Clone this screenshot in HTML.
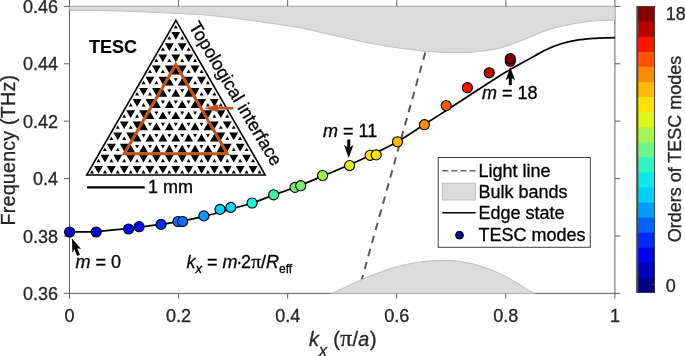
<!DOCTYPE html>
<html><head><meta charset="utf-8"><title>TESC dispersion</title>
<style>html,body{margin:0;padding:0;background:#fff}svg{display:block}text{stroke:#262626;stroke-width:.3px}text[fill="#000"]{stroke:#000}</style></head>
<body>
<svg width="685" height="356" viewBox="0 0 685 356" font-family='"Liberation Sans", Arial, Helvetica, sans-serif' font-size="18" fill="#262626">
<rect width="685" height="356" fill="#fff"/>
<line x1="425.3" y1="52.4" x2="360.6" y2="283.7" stroke="#595959" stroke-width="2" stroke-dasharray="7.6 6"/>
<rect x="69.5" y="6.4" width="545.4" height="287.0" fill="none" stroke="#606060" stroke-width="1"/>
<path d="M69.5,10.2 C75.1,10.3 91.1,10.3 103.0,10.6 C114.9,10.9 128.3,11.3 141.0,11.8 C153.7,12.3 168.3,13.0 178.9,13.5 C189.5,14.0 197.9,14.4 204.6,14.9 C211.3,15.4 214.3,15.9 219.2,16.4 C224.1,16.9 228.9,17.5 233.8,18.1 C238.7,18.7 243.5,19.3 248.4,20.0 C253.3,20.7 257.7,21.4 263.0,22.2 C268.3,23.0 274.2,23.8 280.0,24.6 C285.8,25.5 291.7,26.2 297.5,27.3 C303.3,28.4 309.1,29.7 315.0,31.0 C320.9,32.3 326.8,33.9 332.6,35.2 C338.4,36.5 344.2,37.6 350.0,38.9 C355.8,40.1 361.8,41.5 367.6,42.7 C373.4,43.9 379.6,45.0 385.0,45.9 C390.4,46.8 393.9,47.3 400.0,48.1 C406.1,48.9 414.8,50.2 421.5,50.9 C428.2,51.6 434.6,51.9 440.0,52.2 C445.4,52.5 449.0,52.6 454.0,52.6 C459.0,52.6 464.5,52.6 470.0,52.3 C475.5,51.9 481.6,51.3 487.0,50.5 C492.4,49.7 496.2,49.3 502.5,47.4 C508.8,45.5 517.5,42.2 525.0,39.3 C532.5,36.4 539.9,32.6 547.4,30.1 C554.9,27.6 562.6,26.0 570.0,24.5 C577.4,23.0 584.5,21.8 592.0,21.1 C599.5,20.4 611.1,20.3 614.9,20.1 L614.9,6.4 L69.5,6.4 Z" fill="#dbdbdb"/>
<path d="M69.5,6.4H614.9M614.9,6.4V20.1" fill="none" stroke="#bfbfbf" stroke-width="1" stroke-opacity="0.6"/>
<path d="M69.5,10.2 C75.1,10.3 91.1,10.3 103.0,10.6 C114.9,10.9 128.3,11.3 141.0,11.8 C153.7,12.3 168.3,13.0 178.9,13.5 C189.5,14.0 197.9,14.4 204.6,14.9 C211.3,15.4 214.3,15.9 219.2,16.4 C224.1,16.9 228.9,17.5 233.8,18.1 C238.7,18.7 243.5,19.3 248.4,20.0 C253.3,20.7 257.7,21.4 263.0,22.2 C268.3,23.0 274.2,23.8 280.0,24.6 C285.8,25.5 291.7,26.2 297.5,27.3 C303.3,28.4 309.1,29.7 315.0,31.0 C320.9,32.3 326.8,33.9 332.6,35.2 C338.4,36.5 344.2,37.6 350.0,38.9 C355.8,40.1 361.8,41.5 367.6,42.7 C373.4,43.9 379.6,45.0 385.0,45.9 C390.4,46.8 393.9,47.3 400.0,48.1 C406.1,48.9 414.8,50.2 421.5,50.9 C428.2,51.6 434.6,51.9 440.0,52.2 C445.4,52.5 449.0,52.6 454.0,52.6 C459.0,52.6 464.5,52.6 470.0,52.3 C475.5,51.9 481.6,51.3 487.0,50.5 C492.4,49.7 496.2,49.3 502.5,47.4 C508.8,45.5 517.5,42.2 525.0,39.3 C532.5,36.4 539.9,32.6 547.4,30.1 C554.9,27.6 562.6,26.0 570.0,24.5 C577.4,23.0 584.5,21.8 592.0,21.1 C599.5,20.4 611.1,20.3 614.9,20.1" fill="none" stroke="#bfbfbf" stroke-width="1"/>
<path d="M331.6,293.4 C335.5,291.6 348.2,285.8 355.0,282.7 C361.8,279.6 366.8,277.3 372.6,275.0 C378.4,272.7 384.2,270.5 390.0,268.7 C395.8,266.9 401.8,265.4 407.6,264.2 C413.4,263.0 419.2,262.0 425.0,261.4 C430.8,260.8 436.8,260.3 442.6,260.3 C448.4,260.3 454.1,260.6 460.0,261.4 C465.9,262.2 471.8,263.5 477.7,265.2 C483.6,266.9 489.4,269.0 495.2,271.5 C501.0,274.0 507.5,277.4 512.7,280.3 C518.0,283.2 523.1,286.8 526.7,289.0 C530.3,291.2 533.1,292.7 534.4,293.4 Z" fill="#dbdbdb"/>
<path d="M331.6,293.4H534.4" fill="none" stroke="#bfbfbf" stroke-width="1" stroke-opacity="0.5"/>
<path d="M331.6,293.4 C335.5,291.6 348.2,285.8 355.0,282.7 C361.8,279.6 366.8,277.3 372.6,275.0 C378.4,272.7 384.2,270.5 390.0,268.7 C395.8,266.9 401.8,265.4 407.6,264.2 C413.4,263.0 419.2,262.0 425.0,261.4 C430.8,260.8 436.8,260.3 442.6,260.3 C448.4,260.3 454.1,260.6 460.0,261.4 C465.9,262.2 471.8,263.5 477.7,265.2 C483.6,266.9 489.4,269.0 495.2,271.5 C501.0,274.0 507.5,277.4 512.7,280.3 C518.0,283.2 523.1,286.8 526.7,289.0 C530.3,291.2 533.1,292.7 534.4,293.4" fill="none" stroke="#bfbfbf" stroke-width="1"/>
<path d="M69.50,293.4v5.2M69.50,6.4v-6.4M178.58,293.4v5.2M178.58,6.4v-6.4M287.66,293.4v5.2M287.66,6.4v-6.4M396.74,293.4v5.2M396.74,6.4v-6.4M505.82,293.4v5.2M505.82,6.4v-6.4M614.90,293.4v5.2M614.90,6.4v-6.4M69.5,293.40h-5.5M614.9,293.40h5.5M69.5,236.00h-5.5M614.9,236.00h5.5M69.5,178.60h-5.5M614.9,178.60h5.5M69.5,121.20h-5.5M614.9,121.20h5.5M69.5,63.80h-5.5M614.9,63.80h5.5M69.5,6.40h-5.5M614.9,6.40h5.5" stroke="#606060" stroke-width="1" fill="none"/>
<text x="69.5" y="321.6" text-anchor="middle">0</text>
<text x="178.6" y="321.6" text-anchor="middle">0.2</text>
<text x="287.7" y="321.6" text-anchor="middle">0.4</text>
<text x="396.7" y="321.6" text-anchor="middle">0.6</text>
<text x="505.8" y="321.6" text-anchor="middle">0.8</text>
<text x="614.9" y="321.6" text-anchor="middle">1</text>
<text x="58" y="299.9" text-anchor="end">0.36</text>
<text x="58" y="242.5" text-anchor="end">0.38</text>
<text x="58" y="185.1" text-anchor="end">0.4</text>
<text x="58" y="127.7" text-anchor="end">0.42</text>
<text x="58" y="70.3" text-anchor="end">0.44</text>
<text x="58" y="12.9" text-anchor="end">0.46</text>
<text transform="translate(14.8,150.1) rotate(-90)" text-anchor="middle" font-size="19.8" letter-spacing="0.15">Frequency (THz)</text>
<text x="309" y="345.7" font-size="19.8"><tspan font-style="italic">k</tspan><tspan font-style="italic" font-size="16" dy="9.8">x</tspan><tspan dy="-9.8" dx="0.8"> (</tspan><tspan font-family="Liberation Serif, serif" font-size="23.5" dx="0.4">π</tspan><tspan dx="0.4">/</tspan><tspan font-style="italic" dx="0.3">a</tspan><tspan dx="0.8">)</tspan></text>
<path d="M69.5,232.0 C74.0,231.9 86.4,232.2 96.2,231.6 C106.0,231.0 121.4,229.3 128.6,228.6 C135.8,227.9 133.7,227.9 139.1,227.2 C144.5,226.5 154.2,225.4 161.0,224.4 C167.8,223.4 172.8,222.7 180.0,221.3 C187.2,220.0 196.4,218.1 203.9,216.3 C211.4,214.5 217.0,212.9 225.0,210.7 C233.0,208.5 244.0,205.6 252.1,203.0 C260.2,200.4 266.1,197.8 273.7,195.0 C281.3,192.2 289.9,189.5 298.0,186.3 C306.1,183.1 314.2,179.5 322.6,176.0 C331.0,172.5 340.2,169.0 348.6,165.3 C357.0,161.6 364.9,157.9 373.0,154.0 C381.1,150.1 388.9,146.7 397.5,141.8 C406.1,136.9 416.3,129.8 424.4,124.6 C432.5,119.4 439.0,115.1 446.2,110.4 C453.4,105.8 460.2,101.4 467.4,96.7 C474.6,92.0 483.0,86.4 489.3,82.4 C495.6,78.4 499.9,75.5 505.0,72.5 C510.1,69.5 515.1,66.9 520.0,64.1 C524.9,61.3 529.7,58.5 534.6,55.9 C539.5,53.3 544.3,50.4 549.2,48.3 C554.1,46.1 558.9,44.4 563.8,43.0 C568.7,41.6 573.5,40.7 578.4,39.9 C583.3,39.1 588.1,38.8 593.0,38.4 C597.9,38.0 604.0,37.9 607.6,37.8 C611.2,37.7 613.7,37.7 614.9,37.7" fill="none" stroke="#000" stroke-width="1.75"/>
<circle cx="69.6" cy="232" r="5.05" fill="#0000cc" stroke="#000" stroke-width="1.1"/>
<circle cx="96.2" cy="232" r="5.05" fill="#0000cc" stroke="#000" stroke-width="1.1"/>
<circle cx="128.6" cy="229" r="5.05" fill="#0000ff" stroke="#000" stroke-width="1.1"/>
<circle cx="139.1" cy="226.7" r="5.05" fill="#0008ff" stroke="#000" stroke-width="1.1"/>
<circle cx="161" cy="224.4" r="5.05" fill="#0030ff" stroke="#000" stroke-width="1.1"/>
<circle cx="178" cy="221.5" r="5.05" fill="#0a6eff" stroke="#000" stroke-width="1.1"/>
<circle cx="182.6" cy="221.5" r="5.05" fill="#0a6eff" stroke="#000" stroke-width="1.1"/>
<circle cx="203.9" cy="215.9" r="5.05" fill="#0c96f8" stroke="#000" stroke-width="1.1"/>
<circle cx="220" cy="209.4" r="5.05" fill="#08d0ff" stroke="#000" stroke-width="1.1"/>
<circle cx="230.8" cy="207.4" r="5.05" fill="#08d0ff" stroke="#000" stroke-width="1.1"/>
<circle cx="252.1" cy="203" r="5.05" fill="#1ef5dc" stroke="#000" stroke-width="1.1"/>
<circle cx="273.7" cy="194.8" r="5.05" fill="#40f0a8" stroke="#000" stroke-width="1.1"/>
<circle cx="295" cy="187.4" r="5.05" fill="#78ee78" stroke="#000" stroke-width="1.1"/>
<circle cx="300.7" cy="185.7" r="5.05" fill="#78ee78" stroke="#000" stroke-width="1.1"/>
<circle cx="322.6" cy="175.5" r="5.05" fill="#9cf046" stroke="#000" stroke-width="1.1"/>
<circle cx="349.6" cy="165.6" r="5.05" fill="#d8f428" stroke="#000" stroke-width="1.1"/>
<circle cx="370.2" cy="155.3" r="5.05" fill="#fae014" stroke="#000" stroke-width="1.1"/>
<circle cx="376.2" cy="154.9" r="5.05" fill="#fae014" stroke="#000" stroke-width="1.1"/>
<circle cx="397.5" cy="141.8" r="5.05" fill="#ffb40a" stroke="#000" stroke-width="1.1"/>
<circle cx="424.4" cy="124.7" r="5.05" fill="#ff8c0a" stroke="#000" stroke-width="1.1"/>
<circle cx="446.2" cy="105.6" r="5.05" fill="#ff5a00" stroke="#000" stroke-width="1.1"/>
<circle cx="467.4" cy="87.7" r="5.05" fill="#fa1400" stroke="#000" stroke-width="1.1"/>
<circle cx="489.2" cy="72.8" r="5.05" fill="#be0000" stroke="#000" stroke-width="1.1"/>
<circle cx="510.3" cy="61.2" r="5.05" fill="#8c0000" stroke="#000" stroke-width="1.1"/>
<circle cx="510.3" cy="58.7" r="5.05" fill="#780000" stroke="#000" stroke-width="1.1"/>
<text x="75.5" y="268.4" fill="#000"><tspan font-style="italic">m</tspan> = 0</text>
<text x="186.5" y="268.4" fill="#000"><tspan font-style="italic">k</tspan><tspan font-style="italic" font-size="13" dy="4.6">x</tspan><tspan dy="-4.6"> = </tspan><tspan font-style="italic">m</tspan><tspan dx="-1.2">·</tspan><tspan dx="-1.2">2</tspan><tspan font-family="Liberation Serif, serif" font-size="19.5">π</tspan>/<tspan font-style="italic">R</tspan><tspan font-size="12" dy="4.6">eff</tspan></text>
<text x="323" y="137.1" fill="#000"><tspan font-style="italic">m</tspan> = 11</text>
<text x="482" y="99.2" fill="#000"><tspan font-style="italic">m</tspan> = 18</text>
<line x1="348.7" y1="139.5" x2="348.7" y2="149.0" stroke="#000" stroke-width="3"/><path d="M348.7,158.0 L344.0,145.0 L348.7,148.0 L353.4,145.0 Z" fill="#000"/>
<line x1="510.3" y1="85.2" x2="510.3" y2="76.2" stroke="#000" stroke-width="3"/><path d="M510.3,67.2 L515.0,80.2 L510.3,77.2 L505.6,80.2 Z" fill="#000"/>
<line x1="78.5" y1="255.4" x2="75.2" y2="247.0" stroke="#000" stroke-width="3"/><path d="M72.0,238.6 L81.1,249.0 L75.6,247.9 L72.3,252.4 Z" fill="#000"/>
<rect x="438.2" y="157.5" width="152.1" height="89.8" fill="#fff" stroke="#404040" stroke-width="1"/>
<line x1="442.3" y1="170.7" x2="475.6" y2="170.7" stroke="#666" stroke-width="1.5" stroke-dasharray="6 3.1"/>
<rect x="442.3" y="183.2" width="33.3" height="16.8" fill="#dbdbdb" stroke="#bfbfbf" stroke-width="1"/>
<line x1="442.3" y1="212.8" x2="475.6" y2="212.8" stroke="#000" stroke-width="1.6"/>
<circle cx="459.5" cy="235.2" r="3.9" fill="#000080" stroke="#000" stroke-width="1"/>
<text x="478.5" y="176.6" fill="#000">Light line</text>
<text x="478.5" y="198.0" fill="#000">Bulk bands</text>
<text x="478.5" y="219.4" fill="#000">Edge state</text>
<text x="478.5" y="240.8" fill="#000">TESC modes</text>
<rect x="636.9" y="6.20" width="17.9" height="286.30" fill="#800000"/>
<rect x="636.9" y="21.77" width="17.9" height="270.73" fill="#b90000"/>
<rect x="636.9" y="36.84" width="17.9" height="255.66" fill="#ff1400"/>
<rect x="636.9" y="51.91" width="17.9" height="240.59" fill="#ff5500"/>
<rect x="636.9" y="66.97" width="17.9" height="225.53" fill="#ff8c00"/>
<rect x="636.9" y="82.04" width="17.9" height="210.46" fill="#ffb900"/>
<rect x="636.9" y="97.11" width="17.9" height="195.39" fill="#ffe100"/>
<rect x="636.9" y="112.18" width="17.9" height="180.32" fill="#dcf51e"/>
<rect x="636.9" y="127.25" width="17.9" height="165.25" fill="#a5f555"/>
<rect x="636.9" y="142.32" width="17.9" height="150.18" fill="#6ef58c"/>
<rect x="636.9" y="157.38" width="17.9" height="135.12" fill="#37f0c3"/>
<rect x="636.9" y="172.45" width="17.9" height="120.05" fill="#10e6f0"/>
<rect x="636.9" y="187.52" width="17.9" height="104.98" fill="#00d0ff"/>
<rect x="636.9" y="202.59" width="17.9" height="89.91" fill="#009cff"/>
<rect x="636.9" y="217.66" width="17.9" height="74.84" fill="#0063ff"/>
<rect x="636.9" y="232.73" width="17.9" height="59.77" fill="#002bff"/>
<rect x="636.9" y="247.79" width="17.9" height="44.71" fill="#0000f0"/>
<rect x="636.9" y="262.86" width="17.9" height="29.64" fill="#0000b8"/>
<rect x="636.9" y="277.93" width="17.9" height="14.57" fill="#000080"/>
<rect x="637.1" y="6.4" width="17.5" height="285.90000000000003" fill="none" stroke="#3c3c3c" stroke-width="0.9"/>
<line x1="637.45" y1="6.2" x2="637.45" y2="292.5" stroke="#4a4a4a" stroke-width="1.7"/>
<path d="M655,14.5h-3M655,284.5h-3" stroke="#333" stroke-width="1"/>
<text x="665.7" y="20.2">18</text>
<text x="665.7" y="291.7">0</text>
<text transform="translate(681,149) rotate(-90)" text-anchor="middle">Orders of TESC modes</text>
<clipPath id="tc"><path d="M86.7,175.0L265.2,175.0L175.9,20.4Z"/></clipPath>
<path d="M86.7,175.0L265.2,175.0L175.9,20.4Z" fill="#fff"/>
<path d="M92.0,170.0L90.0,173.4L94.0,173.4ZM104.9,170.0L102.9,173.4L106.9,173.4ZM117.8,170.0L115.8,173.4L119.8,173.4ZM130.7,170.0L128.7,173.4L132.7,173.4ZM143.5,170.0L141.6,173.4L145.5,173.4ZM156.4,170.0L154.4,173.4L158.4,173.4ZM169.3,170.0L167.3,173.4L171.3,173.4ZM182.2,170.0L180.2,173.4L184.2,173.4ZM195.1,170.0L193.1,173.4L197.1,173.4ZM207.9,170.0L206.0,173.4L209.9,173.4ZM220.8,170.0L218.8,173.4L222.8,173.4ZM233.7,170.0L231.7,173.4L235.7,173.4ZM246.6,170.0L244.6,173.4L248.6,173.4ZM259.5,170.0L257.5,173.4L261.5,173.4ZM98.5,173.7L94.0,166.0L102.9,166.0ZM111.3,173.7L106.9,166.0L115.8,166.0ZM124.2,173.7L119.8,166.0L128.7,166.0ZM137.1,173.7L132.7,166.0L141.6,166.0ZM150.0,173.7L145.5,166.0L154.4,166.0ZM162.9,173.7L158.4,166.0L167.3,166.0ZM175.8,173.7L171.3,166.0L180.2,166.0ZM188.6,173.7L184.2,166.0L193.1,166.0ZM201.5,173.7L197.1,166.0L206.0,166.0ZM214.4,173.7L209.9,166.0L218.8,166.0ZM227.3,173.7L222.8,166.0L231.7,166.0ZM240.1,173.7L235.7,166.0L244.6,166.0ZM253.0,173.7L248.6,166.0L257.5,166.0ZM98.5,158.8L96.5,162.3L100.5,162.3ZM111.3,158.8L109.4,162.3L113.3,162.3ZM124.2,158.8L122.2,162.3L126.2,162.3ZM137.1,158.8L135.1,162.3L139.1,162.3ZM150.0,158.8L148.0,162.3L152.0,162.3ZM162.9,158.8L160.9,162.3L164.9,162.3ZM175.8,158.8L173.8,162.3L177.7,162.3ZM188.6,158.8L186.6,162.3L190.6,162.3ZM201.5,158.8L199.5,162.3L203.5,162.3ZM214.4,158.8L212.4,162.3L216.4,162.3ZM227.3,158.8L225.3,162.3L229.3,162.3ZM240.1,158.8L238.2,162.3L242.1,162.3ZM253.0,158.8L251.0,162.3L255.0,162.3ZM104.9,162.5L100.5,154.8L109.4,154.8ZM117.8,162.5L113.3,154.8L122.2,154.8ZM130.7,162.5L126.2,154.8L135.1,154.8ZM143.5,162.5L139.1,154.8L148.0,154.8ZM156.4,162.5L152.0,154.8L160.9,154.8ZM169.3,162.5L164.9,154.8L173.8,154.8ZM182.2,162.5L177.7,154.8L186.6,154.8ZM195.1,162.5L190.6,154.8L199.5,154.8ZM207.9,162.5L203.5,154.8L212.4,154.8ZM220.8,162.5L216.4,154.8L225.3,154.8ZM233.7,162.5L229.3,154.8L238.2,154.8ZM246.6,162.5L242.1,154.8L251.0,154.8ZM104.9,147.7L102.9,151.1L106.9,151.1ZM117.8,147.7L115.8,151.1L119.8,151.1ZM130.7,144.8L126.2,152.5L135.1,152.5ZM143.5,144.8L139.1,152.5L148.0,152.5ZM156.4,144.8L152.0,152.5L160.9,152.5ZM169.3,144.8L164.9,152.5L173.8,152.5ZM182.2,144.8L177.7,152.5L186.6,152.5ZM195.1,144.8L190.6,152.5L199.5,152.5ZM207.9,144.8L203.5,152.5L212.4,152.5ZM220.8,144.8L216.4,152.5L225.3,152.5ZM233.7,147.7L231.7,151.1L235.7,151.1ZM246.6,147.7L244.6,151.1L248.6,151.1ZM111.3,151.4L106.9,143.7L115.8,143.7ZM124.2,151.4L119.8,143.7L128.7,143.7ZM137.1,148.6L135.1,145.1L139.1,145.1ZM150.0,148.6L148.0,145.1L152.0,145.1ZM162.9,148.6L160.9,145.1L164.9,145.1ZM175.8,148.6L173.8,145.1L177.7,145.1ZM188.6,148.6L186.6,145.1L190.6,145.1ZM201.5,148.6L199.5,145.1L203.5,145.1ZM214.4,148.6L212.4,145.1L216.4,145.1ZM227.3,151.4L222.8,143.7L231.7,143.7ZM240.1,151.4L235.7,143.7L244.6,143.7ZM111.3,136.5L109.4,140.0L113.3,140.0ZM124.2,136.5L122.2,140.0L126.2,140.0ZM137.1,133.7L132.7,141.4L141.6,141.4ZM150.0,133.7L145.5,141.4L154.4,141.4ZM162.9,133.7L158.4,141.4L167.3,141.4ZM175.8,133.7L171.3,141.4L180.2,141.4ZM188.6,133.7L184.2,141.4L193.1,141.4ZM201.5,133.7L197.1,141.4L206.0,141.4ZM214.4,133.7L209.9,141.4L218.8,141.4ZM227.3,136.5L225.3,140.0L229.3,140.0ZM240.2,136.5L238.2,140.0L242.1,140.0ZM117.8,140.2L113.3,132.5L122.2,132.5ZM130.7,140.2L126.2,132.5L135.1,132.5ZM143.6,137.4L141.6,133.9L145.5,133.9ZM156.4,137.4L154.4,133.9L158.4,133.9ZM169.3,137.4L167.3,133.9L171.3,133.9ZM182.2,137.4L180.2,133.9L184.2,133.9ZM195.1,137.4L193.1,133.9L197.1,133.9ZM207.9,137.4L206.0,133.9L209.9,133.9ZM220.8,140.2L216.4,132.5L225.3,132.5ZM233.7,140.2L229.3,132.5L238.2,132.5ZM117.8,125.4L115.8,128.8L119.8,128.8ZM130.7,125.4L128.7,128.8L132.7,128.8ZM143.6,122.5L139.1,130.2L148.0,130.2ZM156.4,122.5L152.0,130.2L160.9,130.2ZM169.3,122.5L164.9,130.2L173.8,130.2ZM182.2,122.5L177.7,130.2L186.6,130.2ZM195.1,122.5L190.6,130.2L199.5,130.2ZM207.9,122.5L203.5,130.2L212.4,130.2ZM220.8,125.4L218.8,128.8L222.8,128.8ZM233.7,125.4L231.7,128.8L235.7,128.8ZM124.2,129.1L119.8,121.4L128.7,121.4ZM137.1,129.1L132.7,121.4L141.6,121.4ZM150.0,126.3L148.0,122.8L152.0,122.8ZM162.9,126.3L160.9,122.8L164.9,122.8ZM175.8,126.3L173.8,122.8L177.7,122.8ZM188.6,126.3L186.6,122.8L190.6,122.8ZM201.5,126.3L199.5,122.8L203.5,122.8ZM214.4,129.1L209.9,121.4L218.8,121.4ZM227.3,129.1L222.8,121.4L231.7,121.4ZM124.2,114.2L122.2,117.7L126.2,117.7ZM137.1,114.2L135.1,117.7L139.1,117.7ZM150.0,111.4L145.5,119.1L154.4,119.1ZM162.9,111.4L158.4,119.1L167.3,119.1ZM175.8,111.4L171.3,119.1L180.2,119.1ZM188.6,111.4L184.2,119.1L193.1,119.1ZM201.5,111.4L197.1,119.1L206.0,119.1ZM214.4,114.2L212.4,117.7L216.4,117.7ZM227.3,114.2L225.3,117.7L229.3,117.7ZM130.7,117.9L126.2,110.2L135.1,110.2ZM143.5,117.9L139.1,110.2L148.0,110.2ZM156.4,115.1L154.4,111.6L158.4,111.6ZM169.3,115.1L167.3,111.6L171.3,111.6ZM182.2,115.1L180.2,111.6L184.2,111.6ZM195.1,115.1L193.1,111.6L197.1,111.6ZM207.9,117.9L203.5,110.2L212.4,110.2ZM220.8,117.9L216.4,110.2L225.3,110.2ZM130.7,103.1L128.7,106.5L132.7,106.5ZM143.5,103.1L141.6,106.5L145.5,106.5ZM156.4,100.2L152.0,107.9L160.9,107.9ZM169.3,100.2L164.9,107.9L173.8,107.9ZM182.2,100.2L177.7,107.9L186.6,107.9ZM195.1,100.2L190.6,107.9L199.5,107.9ZM207.9,103.1L206.0,106.5L209.9,106.5ZM220.8,103.1L218.8,106.5L222.8,106.5ZM137.1,106.8L132.7,99.1L141.6,99.1ZM150.0,106.8L145.5,99.1L154.4,99.1ZM162.9,103.9L160.9,100.5L164.9,100.5ZM175.8,103.9L173.8,100.5L177.7,100.5ZM188.6,103.9L186.6,100.5L190.6,100.5ZM201.5,106.8L197.1,99.1L206.0,99.1ZM214.4,106.8L209.9,99.1L218.8,99.1ZM137.1,91.9L135.1,95.4L139.1,95.4ZM150.0,91.9L148.0,95.4L152.0,95.4ZM162.9,89.1L158.4,96.8L167.3,96.8ZM175.8,89.1L171.3,96.8L180.2,96.8ZM188.6,89.1L184.2,96.8L193.1,96.8ZM201.5,91.9L199.5,95.4L203.5,95.4ZM214.4,91.9L212.4,95.4L216.4,95.4ZM143.5,95.6L139.1,87.9L148.0,87.9ZM156.4,95.6L152.0,87.9L160.9,87.9ZM169.3,92.8L167.3,89.3L171.3,89.3ZM182.2,92.8L180.2,89.3L184.2,89.3ZM195.1,95.6L190.6,87.9L199.5,87.9ZM207.9,95.6L203.5,87.9L212.4,87.9ZM143.5,80.7L141.6,84.2L145.5,84.2ZM156.4,80.7L154.4,84.2L158.4,84.2ZM169.3,77.9L164.9,85.6L173.8,85.6ZM182.2,77.9L177.7,85.6L186.6,85.6ZM195.1,80.7L193.1,84.2L197.1,84.2ZM207.9,80.7L206.0,84.2L209.9,84.2ZM150.0,84.5L145.5,76.8L154.4,76.8ZM162.9,84.5L158.4,76.8L167.3,76.8ZM175.8,81.6L173.8,78.2L177.7,78.2ZM188.6,84.5L184.2,76.8L193.1,76.8ZM201.5,84.5L197.1,76.8L206.0,76.8ZM150.0,69.6L148.0,73.0L152.0,73.0ZM162.9,69.6L160.9,73.0L164.9,73.0ZM175.8,66.8L171.3,74.5L180.2,74.5ZM188.6,69.6L186.6,73.0L190.6,73.0ZM201.5,69.6L199.5,73.0L203.5,73.0ZM156.4,73.3L152.0,65.6L160.9,65.6ZM169.3,73.3L164.9,65.6L173.8,65.6ZM182.2,73.3L177.7,65.6L186.6,65.6ZM195.1,73.3L190.6,65.6L199.5,65.6ZM156.4,58.4L154.4,61.9L158.4,61.9ZM169.3,58.4L167.3,61.9L171.3,61.9ZM182.2,58.4L180.2,61.9L184.2,61.9ZM195.1,58.4L193.1,61.9L197.1,61.9ZM162.9,62.2L158.4,54.5L167.3,54.5ZM175.8,62.2L171.3,54.5L180.2,54.5ZM188.6,62.2L184.2,54.5L193.1,54.5ZM162.9,47.3L160.9,50.7L164.9,50.7ZM175.8,47.3L173.8,50.7L177.7,50.7ZM188.6,47.3L186.6,50.7L190.6,50.7ZM169.3,51.0L164.9,43.3L173.8,43.3ZM182.2,51.0L177.7,43.3L186.6,43.3ZM169.3,36.1L167.3,39.6L171.3,39.6ZM182.2,36.1L180.2,39.6L184.2,39.6ZM175.8,39.8L171.3,32.1L180.2,32.1ZM175.8,25.0L173.8,28.4L177.7,28.4Z" fill="#000" clip-path="url(#tc)"/>
<path d="M86.7,175.0L265.2,175.0L175.9,20.4Z" fill="none" stroke="#000" stroke-width="1.6" stroke-linejoin="miter"/>
<path d="M124.2,153.7L227.3,153.7L175.8,64.5Z" fill="none" stroke="#c0531c" stroke-width="3" stroke-linejoin="miter"/>
<line x1="233.3" y1="108.2" x2="216.5" y2="108.2" stroke="#c0531c" stroke-width="2.6"/><path d="M204.0,108.2 L218.5,104.2 L217.5,108.2 L218.5,112.2 Z" fill="#c0531c"/>
<text x="89" y="52.8" font-weight="bold" fill="#000" style="stroke-width:.1px">TESC</text>
<text transform="translate(188.4,26.2) rotate(59.2)" fill="#000">Topological interface</text>
<line x1="87" y1="187.3" x2="144.7" y2="187.3" stroke="#000" stroke-width="2.2"/>
<text x="148" y="192.8" fill="#000">1 mm</text>
</svg>
</body></html>
